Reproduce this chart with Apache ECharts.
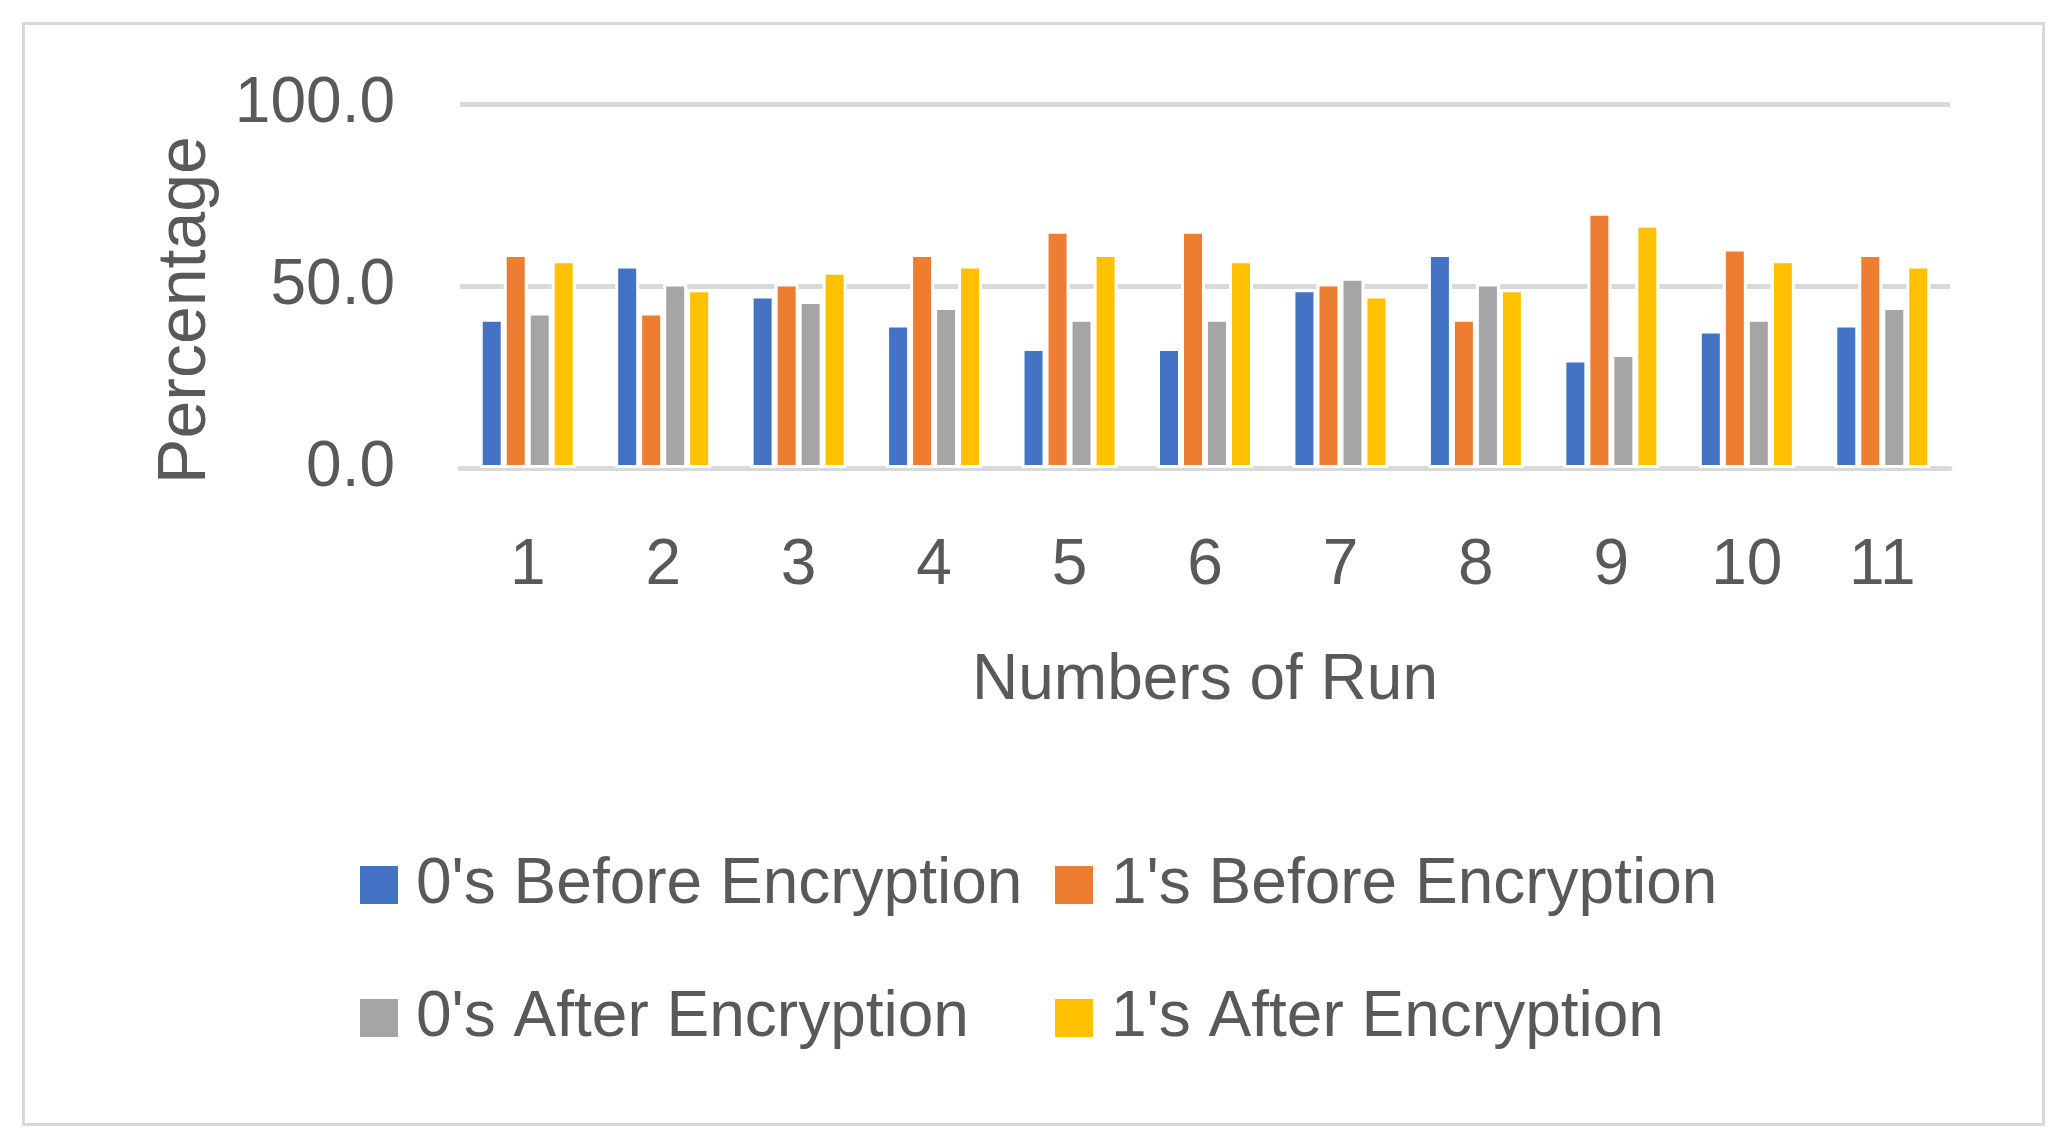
<!DOCTYPE html>
<html>
<head>
<meta charset="utf-8">
<script src="https://cdn.jsdelivr.net/npm/echarts@6/dist/echarts.min.js"></script>
<style>
  html, body { margin: 0; padding: 0; background: #fff; }
  #chart { width: 2065px; height: 1148px; }
</style>
</head>
<body>
<div id="chart"></div>
<script>
const runs = ['1', '2', '3', '4', '5', '6', '7', '8', '9', '10', '11'];
const zerosBefore = [41.0, 55.6, 47.4, 39.4, 33.0, 33.0, 49.1, 58.8, 29.8, 37.8, 39.4];
const onesBefore = [58.8, 42.7, 50.7, 58.8, 65.2, 65.2, 50.7, 41.0, 70.1, 60.3, 58.8];
const zerosAfter = [42.7, 50.7, 45.9, 44.2, 41.0, 41.0, 52.3, 50.7, 31.3, 41.0, 44.2];
const onesAfter = [57.1, 49.1, 53.9, 55.6, 58.8, 57.1, 47.4, 49.1, 66.8, 57.1, 55.6];

const seriesNames = ["0's Before Encryption", "1's Before Encryption", "0's After Encryption", "1's After Encryption"];
const colors = ['#4472C4', '#ED7D31', '#A5A5A5', '#FFC000'];

const font = '"Liberation Sans", Arial, sans-serif';
const textColor = '#595959';

const myChart = echarts.init(document.getElementById('chart'));

function makeBar(name, data, color) {
    return {
        name: name,
        type: 'bar',
        data: data,
        barWidth: 24,
        barGap: '0%',
        itemStyle: {
            color: color,
            borderColor: '#fff',
            borderWidth: 3
        }
    };
}

function makeLegend(left, names) {
    return {
        orient: 'vertical',
        left: left,
        top: 848,
        itemWidth: 40,
        itemHeight: 40,
        itemGap: 69,
        icon: 'rect',
        data: names,
        textStyle: { color: textColor, fontSize: 64, fontFamily: font, padding: [0, 0, 0, 12] }
    };
}

const option = {
    backgroundColor: '#fff',
    animation: false,
    color: colors,
    grid: { left: 460, right: 115, top: 104, bottom: 680 },
    legend: [
        makeLegend(353, [seriesNames[0], seriesNames[2]]),
        makeLegend(1048, [seriesNames[1], seriesNames[3]])
    ],
    xAxis: {
        type: 'category',
        data: runs,
        name: 'Numbers of Run',
        nameLocation: 'middle',
        nameGap: 181,
        nameTextStyle: { color: textColor, fontSize: 64, fontFamily: font },
        axisLine: { lineStyle: { color: '#d9d9d9', width: 5 } },
        axisTick: { show: false },
        axisLabel: { color: textColor, fontSize: 64, fontFamily: font, margin: 66 }
    },
    yAxis: {
        type: 'value',
        min: 0,
        max: 100,
        interval: 50,
        name: 'Percentage',
        nameLocation: 'middle',
        nameGap: 240,
        nameTextStyle: { color: textColor, fontSize: 68, fontFamily: font, padding: [0, 48, 0, 0] },
        axisLine: { show: false },
        axisTick: { show: false },
        splitLine: { lineStyle: { color: '#d9d9d9', width: 5 } },
        axisLabel: {
            color: textColor, fontSize: 64, fontFamily: font, margin: 65,
            formatter: function (v) { return v.toFixed(1); }
        }
    },
    graphic: [{
        type: 'rect',
        left: 21,
        top: 21,
        shape: { width: 2020, height: 1101 },
        style: { fill: 'none', stroke: '#d9d9d9', lineWidth: 3 },
        silent: true
    }],
    series: [
        makeBar(seriesNames[0], zerosBefore, colors[0]),
        makeBar(seriesNames[1], onesBefore, colors[1]),
        makeBar(seriesNames[2], zerosAfter, colors[2]),
        makeBar(seriesNames[3], onesAfter, colors[3])
    ]
};

myChart.setOption(option);
</script>
</body>
</html>
